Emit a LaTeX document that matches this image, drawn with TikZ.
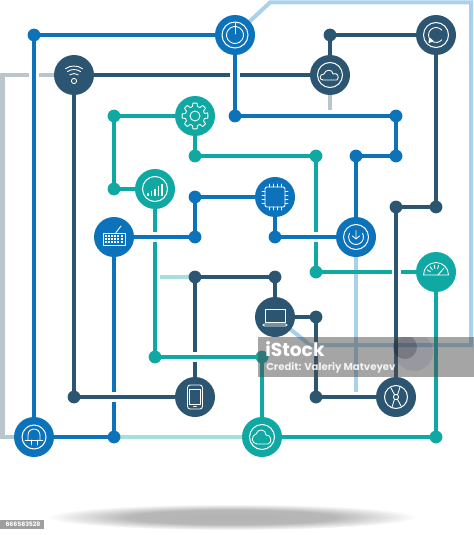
\documentclass[tikz,border=0pt]{standalone}
\usepackage{fontspec}
\setmainfont{Poppins}
\definecolor{cblue}{HTML}{0C72BA}
\definecolor{cdark}{HTML}{2B5570}
\definecolor{cteal}{HTML}{0FA8A3}
\definecolor{cgrey}{HTML}{BAC6CC}
\definecolor{clblue}{HTML}{A9D1EA}
\definecolor{clteal}{HTML}{A8DFDD}
\pgfdeclareradialshading{floorshadow}{\pgfpoint{0bp}{0bp}}{color(0bp)=(black!30); color(14bp)=(black!28); color(25bp)=(white); color(50bp)=(white)}
\tikzset{
  hub/.style={circle,fill=#1,minimum size=30pt,inner sep=0pt,outer sep=0pt},
  dot/.style={circle,fill=#1,minimum size=9.6pt,inner sep=0pt,outer sep=0pt},
  wire/.style={draw=#1,line width=3pt},
  bgwire/.style={draw=#1,line width=3pt},
  icon/.style={draw=white,line width=.65pt,line cap=round,line join=round},
  ring/.style={draw=white,line width=.75pt},
}
\begin{document}
\begin{tikzpicture}[x=.75pt,y=-.75pt]
\useasboundingbox (0,0) rectangle (474,535);
% shadow
\shade[shading=floorshadow] (232,517) ellipse (185 and 13);
% free ends
\coordinate (g1) at (2.5,437); \coordinate (g2) at (2.5,75); \coordinate (g3) at (29,75); \coordinate (g4) at (39,75);
\coordinate (b1) at (270,2.5); \coordinate (b2) at (471,2.5); \coordinate (b3) at (471,345); \coordinate (b4) at (310,345);
\coordinate (b5) at (356,392); \coordinate (b6) at (330,110); \coordinate (t1) at (160,277);
\coordinate (gw1) at (230,75); \coordinate (gw2) at (240,75);
\coordinate (gt1) at (155,232); \coordinate (gt2) at (155,242);
\coordinate (gt3) at (316,232); \coordinate (gt4) at (316,242);
\coordinate (gd1) at (195,352); \coordinate (gd2) at (195,362);
\coordinate (gb1) at (114,392); \coordinate (gb2) at (114,402);
\coordinate (gg1) at (392,272); \coordinate (gg2) at (401,272);
% background wires
\draw[bgwire=cgrey,line join=miter] (34,437) -- (g1) -- (g2) -- (g3);
\draw[bgwire=cgrey] (g4) -- (74,75);
\draw[bgwire=clblue,line join=miter] (235,35) -- (b1) -- (b2) -- (b3) -- (b4) -- (275,317);
\draw[bgwire=clblue] (356,237) -- (b5);
\draw[bgwire=cgrey] (330,75) -- (b6);
\draw[bgwire=clteal] (t1) -- (195,277);
\draw[bgwire=clteal] (114,437) -- (262,437);
% hubs
\node[hub=cblue] (power) at (235,35) {};
\node[hub=cdark] (wifi) at (74,75) {};
\node[hub=cteal] (gear) at (195,116) {};
\node[hub=cteal] (chart) at (155,189) {};
\node[hub=cblue] (keys) at (114,237) {};
\node[hub=cblue] (chip) at (275,197) {};
\node[hub=cblue] (down) at (356,237) {};
\node[hub=cdark] (cloudd) at (330,75) {};
\node[hub=cdark] (refresh) at (436,35) {};
\node[hub=cteal] (gauge) at (436,272) {};
\node[hub=cdark] (laptop) at (275,317) {};
\node[hub=cdark] (phone) at (195,397) {};
\node[hub=cdark] (disc) at (396,397) {};
\node[hub=cteal] (cloudt) at (262,437) {};
\node[hub=cblue] (plug) at (34,437) {};
% junctions
\node[dot=cblue] (j1) at (34,35) {};
\node[dot=cblue] (j2) at (235,116) {};
\node[dot=cblue] (j3) at (396,116) {};
\node[dot=cblue] (j4) at (396,156) {};
\node[dot=cblue] (j5) at (356,156) {};
\node[dot=cdark] (j6) at (330,35) {};
\node[dot=cdark] (j7) at (396,207) {};
\node[dot=cdark] (j8) at (436,207) {};
\node[dot=cteal] (j9) at (114,116) {};
\node[dot=cteal] (j10) at (114,189) {};
\node[dot=cteal] (j11) at (195,156) {};
\node[dot=cteal] (j12) at (316,156) {};
\node[dot=cteal] (j13) at (316,272) {};
\node[dot=cblue] (j14) at (195,197) {};
\node[dot=cblue] (j15) at (195,237) {};
\node[dot=cblue] (j16) at (275,237) {};
\node[dot=cdark] (j17) at (195,277) {};
\node[dot=cdark] (j18) at (275,277) {};
\node[dot=cdark] (j19) at (316,317) {};
\node[dot=cdark] (j20) at (316,397) {};
\node[dot=cdark] (j21) at (74,397) {};
\node[dot=cblue] (j22) at (114,437) {};
\node[dot=cteal] (j23) at (155,357) {};
\node[dot=cteal] (j24) at (262,357) {};
\node[dot=cteal] (j25) at (436,437) {};
% wires blue
\draw[wire=cblue] (j1) -- (power);
\draw[wire=cblue] (j1) -- (plug);
\draw[wire=cblue] (power) -- (j2);
\draw[wire=cblue] (j2) -- (j3);
\draw[wire=cblue] (j3) -- (j4);
\draw[wire=cblue] (j4) -- (j5);
\draw[wire=cblue] (j5) -- (down);
\draw[wire=cblue] (keys) -- (j15);
\draw[wire=cblue] (j15) -- (j14);
\draw[wire=cblue] (j14) -- (chip);
\draw[wire=cblue] (chip) -- (j16);
\draw[wire=cblue] (j16) -- (down);
\draw[wire=cblue] (keys) -- (gb1);
\draw[wire=cblue] (gb2) -- (j22);
\draw[wire=cblue] (plug) -- (j22);
% wires dark
\draw[wire=cdark] (wifi) -- (gw1);
\draw[wire=cdark] (gw2) -- (cloudd);
\draw[wire=cdark] (wifi) -- (j21);
\draw[wire=cdark] (j21) -- (phone);
\draw[wire=cdark] (cloudd) -- (j6);
\draw[wire=cdark] (j6) -- (refresh);
\draw[wire=cdark] (refresh) -- (j8);
\draw[wire=cdark] (j8) -- (j7);
\draw[wire=cdark] (j7) -- (disc);
\draw[wire=cdark] (j17) -- (gd1);
\draw[wire=cdark] (gd2) -- (phone);
\draw[wire=cdark] (j17) -- (j18);
\draw[wire=cdark] (j18) -- (laptop);
\draw[wire=cdark] (laptop) -- (j19);
\draw[wire=cdark] (j19) -- (j20);
\draw[wire=cdark] (j20) -- (disc);
% wires teal
\draw[wire=cteal] (gear) -- (j9);
\draw[wire=cteal] (j9) -- (j10);
\draw[wire=cteal] (j10) -- (chart);
\draw[wire=cteal] (gear) -- (j11);
\draw[wire=cteal] (j11) -- (j12);
\draw[wire=cteal] (j12) -- (gt3);
\draw[wire=cteal] (gt4) -- (j13);
\draw[wire=cteal] (j13) -- (gg1);
\draw[wire=cteal] (gg2) -- (gauge);
\draw[wire=cteal] (chart) -- (gt1);
\draw[wire=cteal] (gt2) -- (j23);
\draw[wire=cteal] (j23) -- (j24);
\draw[wire=cteal] (j24) -- (cloudt);
\draw[wire=cteal] (cloudt) -- (j25);
\draw[wire=cteal] (j25) -- (gauge);
% icons
\begin{scope}[shift={(235,35)}]
\draw[ring] (0,0) circle (13);
\draw[icon] (-55:8.5) arc (-55:-415:8.5);
\draw[icon] (0,-12) -- (0,-1);
\end{scope}
\begin{scope}[shift={(74,75)}]
\draw[icon] (0,6) circle (2.6);
\draw[icon] (0,6) ++(-55:7.5) arc (-55:-125:7.5);
\draw[icon] (0,6) ++(-55:11.5) arc (-55:-125:11.5);
\draw[icon] (0,6) ++(-55:15) arc (-55:-125:15);
\end{scope}
\begin{scope}[shift={(195,116)}]
\draw[icon] (0,0) circle (5);
\draw[icon] (-14:13) foreach \a in {0,45,...,315} { -- (\a-9:13) -- (\a+9:13) -- (\a+15:9.8) -- (\a+30:9.8)} -- cycle;
\end{scope}
\begin{scope}[shift={(155,189)}]
\draw[ring] (0,0) circle (12.5);
\foreach \p/\h in {-7/3,-3.5/5,0/7,3.5/10,7/12}
  \draw[icon,line width=1.3pt,line cap=butt] (\p,7) -- (\p,7-\h);
\end{scope}
\begin{scope}[shift={(114,237)}]
\draw[icon] (-11,-4) rectangle (11,8);
\foreach \y in {-1,2,5} \draw[icon,dash pattern=on 1.6pt off .8pt,line cap=butt,line width=1.3pt] (-9.5,\y) -- (9.5,\y);
\draw[icon] (2,-4.5) -- (7,-11);
\end{scope}
\begin{scope}[shift={(275,197)}]
\draw[icon,rounded corners=1.5pt] (-10,-10) rectangle (10,10);
\foreach \t in {-6,-2,2,6} {
  \draw[icon] (\t,-10) -- (\t,-13);
  \draw[icon] (\t,10) -- (\t,13);
  \draw[icon] (-10,\t) -- (-13,\t);
  \draw[icon] (10,\t) -- (13,\t);
}
\end{scope}
\begin{scope}[shift={(356,237)}]
\draw[ring] (0,0) circle (12.5);
\draw[icon] (-30:7.5) arc (-30:210:7.5);
\draw[icon] (0,-6.5) -- (0,2) (-3.5,-1) -- (0,2) -- (3.5,-1);
\end{scope}
\begin{scope}[shift={(330,75)}]
\draw[ring] (0,0) circle (12.5);
\draw[icon] (-7,5) .. controls (-11,5) and (-11,-1) .. (-6,-1)
  .. controls (-5,-6) and (3,-6) .. (3,-1) .. controls (7,-3) and (10,2) .. (7,5) -- cycle;
\end{scope}
\begin{scope}[shift={(436,35)}]
\draw[ring] (0,0) circle (12.5);
\draw[icon] (-40:7.5) arc (-40:-320:7.5);
\draw[icon,fill=white] (-6.5,3) -- (-3,6) -- (-7,7.5) -- cycle;
\end{scope}
\begin{scope}[shift={(436,272)}]
\draw[icon] (-12.5,3) arc (180:360:12.5) -- cycle;
\foreach \a in {-150,-125,-100,-75} \draw[icon] (0,3) ++(\a:6.5) -- ++(\a:3.5);
\draw[icon] (2,3) -- (8,-4);
\end{scope}
\begin{scope}[shift={(275,317)}]
\draw[icon] (-10,-8) rectangle (10,5);
\draw[icon,rounded corners=1pt] (-12,7) rectangle (12,9);
\end{scope}
\begin{scope}[shift={(195,397)}]
\draw[icon,rounded corners=2pt] (-7.5,-12) rectangle (7.5,12);
\draw[icon] (-5.5,-8) rectangle (5.5,7);
\draw[icon] (-1.5,9.5) -- (1.5,9.5);
\end{scope}
\begin{scope}[shift={(396,397)}]
\draw[ring] (0,0) circle (11.5);
\draw[icon] (0,0) circle (2.6);
\draw[icon] (-5,-9) -- (-1.4,-2.2) (1.4,2.2) -- (5,9) (1.5,-2.2) -- (4,-10) (-1.5,2.2) -- (-4,10);
\end{scope}
\begin{scope}[shift={(262,437)}]
\draw[ring] (0,0) circle (12.5);
\draw[icon] (-5,7) .. controls (-11,7) and (-11,-2) .. (-6,-3)
  .. controls (-4,-9) and (4,-8) .. (4,-2) .. controls (9,-3) and (11,6) .. (6,7) -- cycle;
\end{scope}
\begin{scope}[shift={(34,437)}]
\draw[ring] (0,0) circle (12);
\draw[icon] (-6,3) -- (-6,-2) arc (180:0:6 and -6) -- (6,3);
\draw[icon] (-9,3) -- (9,3);
\draw[icon] (-3,3) -- (-3,8) (3,3) -- (3,8);
\end{scope}
% watermark
\fill[black!70,opacity=.5] (258,337) rectangle (474,377);
\begin{scope}
\clip (258,337) rectangle (474,377);
\fill[black,opacity=.2] (405,347) circle (12);
\fill[black!60!blue,opacity=.08] (414,352) circle (19);
\end{scope}
\node[text=white,font=\bfseries\fontsize{14pt}{15pt}\selectfont,anchor=west,inner sep=0pt] (wm1) at (265,349) {iStock};
\node[text=white,font=\fontsize{7.6pt}{9pt}\selectfont\bfseries,anchor=west,inner sep=0pt,opacity=.85] (wm2) at (266,367.5) {Credit: Valeriy Matveyev};
% id tag
\fill[black!38] (0,520) rectangle (44,529);
\node[text=white,font=\fontsize{4.6pt}{5pt}\selectfont\bfseries,inner sep=0pt] (wm3) at (23,524.5) {666583528};
\end{tikzpicture}
\end{document}
